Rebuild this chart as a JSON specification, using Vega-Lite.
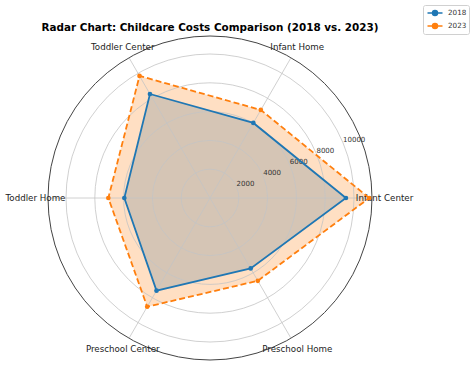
{
  "$schema": "https://vega.github.io/schema/vega-lite/v6.json",
  "width": 324,
  "height": 324,
  "autosize": {"type": "none"},
  "padding": {"left": 48, "top": 36, "right": 102, "bottom": 7},
  "background": "white",
  "config": {"view": {"stroke": null}, "font": "DejaVu Sans"},
  "title": {"text": "Radar Chart: Childcare Costs Comparison (2018 vs. 2023)", "font": "DejaVu Sans", "fontSize": 10.4, "fontWeight": "bold", "color": "#000", "anchor": "middle", "offset": 4, "frame": "group", "dy": 33},
  "datasets": {
    "costs": [
      {"category": "Infant Center", "year": "2018", "cost": 9440},
      {"category": "Infant Home", "year": "2018", "cost": 6020},
      {"category": "Toddler Center", "year": "2018", "cost": 8340},
      {"category": "Toddler Home", "year": "2018", "cost": 5950},
      {"category": "Preschool Center", "year": "2018", "cost": 7430},
      {"category": "Preschool Home", "year": "2018", "cost": 5650},
      {"category": "Infant Center", "year": "2023", "cost": 11060},
      {"category": "Infant Home", "year": "2023", "cost": 7060},
      {"category": "Toddler Center", "year": "2023", "cost": 9790},
      {"category": "Toddler Home", "year": "2023", "cost": 7060},
      {"category": "Preschool Center", "year": "2023", "cost": 8720},
      {"category": "Preschool Home", "year": "2023", "cost": 6640}
    ],
    "ticks": [{"tick": 2000}, {"tick": 4000}, {"tick": 6000}, {"tick": 8000}, {"tick": 10000}],
    "frame": [{"r": 11250}]
  },
  "layer": [
    {
      "data": {"name": "costs"},
      "transform": [
        {"calculate": "indexof(['Infant Center','Infant Home','Toddler Center','Toddler Home','Preschool Center','Preschool Home'], datum.category) * PI / 3", "as": "angle"},
        {"calculate": "datum.cost * cos(datum.angle)", "as": "px"},
        {"calculate": "datum.cost * sin(datum.angle)", "as": "py"}
      ],
      "mark": {"type": "line", "filled": true, "interpolate": "linear-closed", "fillOpacity": 0.25, "strokeWidth": 0},
      "encoding": {
        "x": {"field": "px", "type": "quantitative", "scale": {"domain": [-11250, 11250], "nice": false, "zero": false}, "axis": null},
        "y": {"field": "py", "type": "quantitative", "scale": {"domain": [-11250, 11250], "nice": false, "zero": false}, "axis": null},
        "order": {"field": "angle", "type": "quantitative"},
        "color": {
          "field": "year", "type": "nominal",
          "scale": {"domain": ["2018", "2023"], "range": ["#1f77b4", "#ff7f0e"]},
          "legend": {
            "orient": "none", "legendX": 375, "legendY": -31, "title": null,
            "symbolType": "M-1.5,0L1.5,0M-0.5,0A0.5,0.5,0,1,1,0.5,0A0.5,0.5,0,1,1,-0.5,0Z",
            "symbolSize": 100, "symbolStrokeWidth": 1.5, "symbolOffset": 4,
            "labelFontSize": 7.2, "labelFont": "DejaVu Sans", "labelColor": "#333", "labelOffset": 7,
            "strokeColor": "#d0d0d0", "fillColor": "white", "cornerRadius": 2, "padding": 2, "rowPadding": 1,
            "encode": {"symbols": {"update": {"fill": {"scale": "color", "field": "value"}, "stroke": {"scale": "color", "field": "value"}, "fillOpacity": {"value": 1}, "strokeOpacity": {"value": 1}, "opacity": {"value": 1}}}}
          }
        }
      }
    },
    {
      "data": {"name": "ticks"},
      "mark": {"type": "arc", "filled": false, "stroke": "#c4c4c4", "strokeWidth": 0.8},
      "encoding": {
        "radius": {"field": "tick", "type": "quantitative", "stack": null, "scale": {"type": "linear", "domain": [0, 11250], "range": [0, 162], "zero": true}}
      }
    },
    {
      "data": {"name": "frame"},
      "mark": {"type": "arc", "filled": false, "stroke": "#444", "strokeWidth": 1},
      "encoding": {
        "radius": {"field": "r", "type": "quantitative", "stack": null}
      }
    },
    {
      "data": {"name": "costs"},
      "transform": [
        {"filter": "datum.year == '2018'"},
        {"calculate": "indexof(['Infant Center','Infant Home','Toddler Center','Toddler Home','Preschool Center','Preschool Home'], datum.category) * PI / 3", "as": "angle"},
        {"calculate": "0", "as": "cx"},
        {"calculate": "11250 * cos(datum.angle)", "as": "ex"},
        {"calculate": "11250 * sin(datum.angle)", "as": "ey"}
      ],
      "mark": {"type": "rule", "stroke": "#c4c4c4", "strokeWidth": 0.8},
      "encoding": {
        "x": {"field": "cx", "type": "quantitative"},
        "y": {"field": "cx", "type": "quantitative"},
        "x2": {"field": "ex"},
        "y2": {"field": "ey"}
      }
    },
    {
      "data": {"name": "ticks"},
      "transform": [
        {"calculate": "datum.tick * cos(PI / 8)", "as": "lx"},
        {"calculate": "datum.tick * sin(PI / 8)", "as": "ly"}
      ],
      "mark": {"type": "text", "align": "left", "baseline": "bottom", "fontSize": 7, "color": "#333", "font": "DejaVu Sans"},
      "encoding": {
        "x": {"field": "lx", "type": "quantitative"},
        "y": {"field": "ly", "type": "quantitative"},
        "text": {"field": "tick", "type": "quantitative", "format": "d"}
      }
    },
    {
      "data": {"name": "costs"},
      "transform": [
        {"filter": "datum.year == '2018'"},
        {"calculate": "indexof(['Infant Center','Infant Home','Toddler Center','Toddler Home','Preschool Center','Preschool Home'], datum.category) * PI / 3", "as": "angle"},
        {"calculate": "12120 * cos(datum.angle)", "as": "lx"},
        {"calculate": "12120 * sin(datum.angle)", "as": "ly"}
      ],
      "mark": {"type": "text", "align": "center", "baseline": "middle", "fontSize": 8.7, "color": "#222", "font": "DejaVu Sans"},
      "encoding": {
        "x": {"field": "lx", "type": "quantitative"},
        "y": {"field": "ly", "type": "quantitative"},
        "text": {"field": "category", "type": "nominal"}
      }
    },
    {
      "data": {"name": "costs"},
      "transform": [
        {"filter": "datum.year == '2018'"},
        {"calculate": "indexof(['Infant Center','Infant Home','Toddler Center','Toddler Home','Preschool Center','Preschool Home'], datum.category) * PI / 3", "as": "angle"},
        {"calculate": "datum.cost * cos(datum.angle)", "as": "px"},
        {"calculate": "datum.cost * sin(datum.angle)", "as": "py"}
      ],
      "layer": [
        {"mark": {"type": "line", "interpolate": "linear-closed", "strokeWidth": 1.8}},
        {"mark": {"type": "point", "filled": true, "size": 22, "opacity": 1}}
      ],
      "encoding": {
        "x": {"field": "px", "type": "quantitative"},
        "y": {"field": "py", "type": "quantitative"},
        "order": {"field": "angle", "type": "quantitative"},
        "color": {"field": "year", "type": "nominal"}
      }
    },
    {
      "data": {"name": "costs"},
      "transform": [
        {"filter": "datum.year == '2023'"},
        {"calculate": "indexof(['Infant Center','Infant Home','Toddler Center','Toddler Home','Preschool Center','Preschool Home'], datum.category) * PI / 3", "as": "angle"},
        {"calculate": "datum.cost * cos(datum.angle)", "as": "px"},
        {"calculate": "datum.cost * sin(datum.angle)", "as": "py"}
      ],
      "layer": [
        {"mark": {"type": "line", "interpolate": "linear-closed", "strokeWidth": 1.8, "strokeDash": [6, 3]}},
        {"mark": {"type": "point", "filled": true, "size": 22, "opacity": 1}}
      ],
      "encoding": {
        "x": {"field": "px", "type": "quantitative"},
        "y": {"field": "py", "type": "quantitative"},
        "order": {"field": "angle", "type": "quantitative"},
        "color": {"field": "year", "type": "nominal"}
      }
    }
  ]
}
